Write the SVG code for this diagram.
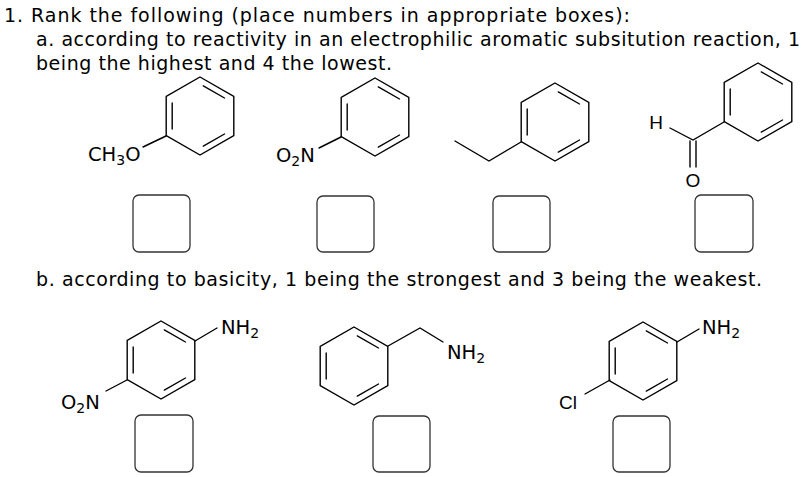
<svg xmlns="http://www.w3.org/2000/svg" xmlns:xlink="http://www.w3.org/1999/xlink" width="804" height="477" viewBox="0 0 804 477">
<style>
.t{font-family:"DejaVu Sans",Verdana,sans-serif;font-size:19px;fill:#000}
.l{font-family:"DejaVu Sans",Verdana,sans-serif;font-size:19.5px;fill:#000}
.a{font-family:"Liberation Sans",Arial,sans-serif;font-size:19px;fill:#000}
.s{font-size:14px}
.b{fill:none;stroke:#000;stroke-width:1.4;stroke-linecap:round}
.box{fill:#fff;stroke:#333;stroke-width:1.3}
</style>
<defs>
<g id="ring" class="b">
<polygon points="0,-39 33.8,-19.5 33.8,19.5 0,39 -33.8,19.5 -33.8,-19.5"/>
<line x1="-27.8" y1="-13" x2="-27.8" y2="13"/>
<line x1="3.3" y1="-30.1" x2="24.5" y2="-18"/>
<line x1="24.5" y1="18" x2="3.3" y2="30.1"/>
</g>
</defs>
<g id="text">
<text class="t" x="4" y="22" textLength="626">1. Rank the following (place numbers in appropriate boxes):</text>
<text class="t" x="36" y="46" textLength="764">a. according to reactivity in an electrophilic aromatic subsitution reaction, 1</text>
<text class="t" x="36" y="70" textLength="356">being the highest and 4 the lowest.</text>
<text class="t" x="36" y="286" textLength="726">b. according to basicity, 1 being the strongest and 3 being the weakest.</text>
</g>
<g id="anisole">
<use xlink:href="#ring" transform="translate(200,116)"/>
<line class="b" x1="166" y1="136" x2="143" y2="147"/>
<text class="l" x="88" y="161">CH<tspan class="s" dy="4">3</tspan><tspan dy="-4">O</tspan></text>
</g>
<g id="nitrobenzene">
<use xlink:href="#ring" transform="translate(375,117)"/>
<line class="b" x1="341" y1="137" x2="319" y2="148"/>
<text class="l" x="276" y="162">O<tspan class="s" dy="4">2</tspan><tspan dy="-4">N</tspan></text>
</g>
<g id="ethylbenzene">
<use xlink:href="#ring" transform="translate(555,122)"/>
<polyline class="b" points="521,142 489,161 455,141"/>
</g>
<g id="benzaldehyde">
<use xlink:href="#ring" transform="translate(758,102)"/>
<polyline class="b" points="724,122 693,140 670,128"/>
<line class="b" x1="690" y1="141" x2="690" y2="167"/>
<line class="b" x1="696" y1="141" x2="696" y2="167"/>
<text class="a" x="656" y="129" text-anchor="middle">H</text>
<text class="a" x="693" y="187" text-anchor="middle">O</text>
</g>
<g id="nitroaniline">
<use xlink:href="#ring" transform="translate(161,360)"/>
<line class="b" x1="195" y1="341" x2="217" y2="328"/>
<line class="b" x1="127" y1="380" x2="106" y2="391"/>
<text class="l" x="221" y="334">NH<tspan class="s" dy="4">2</tspan></text>
<text class="l" x="61" y="409">O<tspan class="s" dy="4">2</tspan><tspan dy="-4">N</tspan></text>
</g>
<g id="benzylamine">
<use xlink:href="#ring" transform="translate(354,366)"/>
<polyline class="b" points="388,346 420,328 443,342"/>
<text class="l" x="447" y="359">NH<tspan class="s" dy="4">2</tspan></text>
</g>
<g id="chloroaniline">
<use xlink:href="#ring" transform="translate(643,361)"/>
<line class="b" x1="677" y1="342" x2="699" y2="329"/>
<line class="b" x1="610" y1="380" x2="585" y2="394"/>
<text class="l" x="702" y="334">NH<tspan class="s" dy="4">2</tspan></text>
<text class="a" x="559" y="409">Cl</text>
</g>
<g id="boxes">
<rect class="box" x="133" y="195" width="57" height="57" rx="6"/>
<rect class="box" x="317" y="196" width="57" height="56" rx="6"/>
<rect class="box" x="493" y="196" width="57" height="56" rx="6"/>
<rect class="box" x="695" y="195" width="58" height="57" rx="6"/>
<rect class="box" x="135" y="415" width="58" height="57" rx="6"/>
<rect class="box" x="373" y="416" width="57" height="56" rx="6"/>
<rect class="box" x="613" y="416" width="57" height="56" rx="6"/>
</g>
</svg>
